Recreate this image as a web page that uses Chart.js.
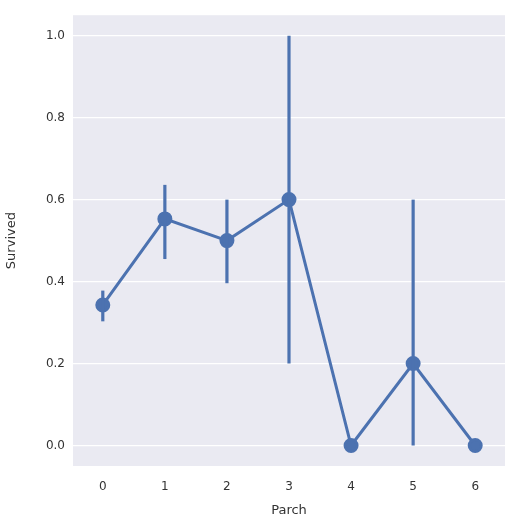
<!DOCTYPE html>
<html><head><script src="https://cdn.jsdelivr.net/npm/chart.js"></script>
<style>html,body{margin:0;background:#fff}#w{width:529px;height:522px}</style></head>
<body><div id="w"><canvas id="c"></canvas></div>
<script>
const categories=[0,1,2,3,4,5,6];
const survived=[0.343,0.553,0.5,0.6,0,0.2,0];
const ciLow=[0.303,0.455,0.396,0.2,0,0,0];
const ciHigh=[0.378,0.636,0.6,1.0,0,0.6,0];
const yTicks=[0,0.2,0.4,0.6,0.8,1.0];
const color='#4C72B0';
const bg={id:'bg',beforeDraw(ch){const a=ch.chartArea,c=ch.ctx;c.save();c.fillStyle='#EAEAF2';c.fillRect(a.left,a.top,a.right-a.left,a.bottom-a.top);c.restore();}};
const err={id:'err',afterDatasetsDraw(ch){const c=ch.ctx,x=ch.scales.x,y=ch.scales.y;c.save();c.strokeStyle=color;c.lineWidth=3.2;categories.forEach((k,i)=>{if(ciHigh[i]===ciLow[i])return;const px=x.getPixelForValue(k);c.beginPath();c.moveTo(px,y.getPixelForValue(ciLow[i]));c.lineTo(px,y.getPixelForValue(ciHigh[i]));c.stroke();});c.restore();}};
new Chart(document.getElementById('c'),{type:'line',
data:{datasets:[{data:categories.map((k,i)=>({x:k,y:survived[i]})),borderColor:color,backgroundColor:color,borderWidth:3,pointRadius:6,pointHoverRadius:6}]},
options:{responsive:true,maintainAspectRatio:false,animation:false,
layout:{padding:{top:15,right:24,bottom:0,left:0}},
plugins:{legend:{display:false},tooltip:{enabled:false}},
scales:{
x:{type:'linear',min:-0.48,max:6.48,afterBuildTicks(s){s.ticks=categories.map(v=>({value:v}));},
grid:{display:false},border:{display:false},ticks:{color:'#333',font:{size:12,family:'DejaVu Sans'},padding:6},
title:{display:true,text:'Parch',color:'#333',font:{size:13,family:'DejaVu Sans'},padding:{top:2}}},
y:{min:-0.05,max:1.05,afterBuildTicks(s){s.ticks=yTicks.map(v=>({value:v}));},
afterFit(s){s.width=73;},
grid:{color:'#fff',lineWidth:1.2,drawTicks:false},border:{display:false},
ticks:{color:'#333',font:{size:12,family:'DejaVu Sans'},padding:8,callback:v=>v.toFixed(1)},
title:{display:true,text:'Survived',color:'#333',font:{size:13,family:'DejaVu Sans'}}}}},
plugins:[bg,err]});
</script></body></html>
